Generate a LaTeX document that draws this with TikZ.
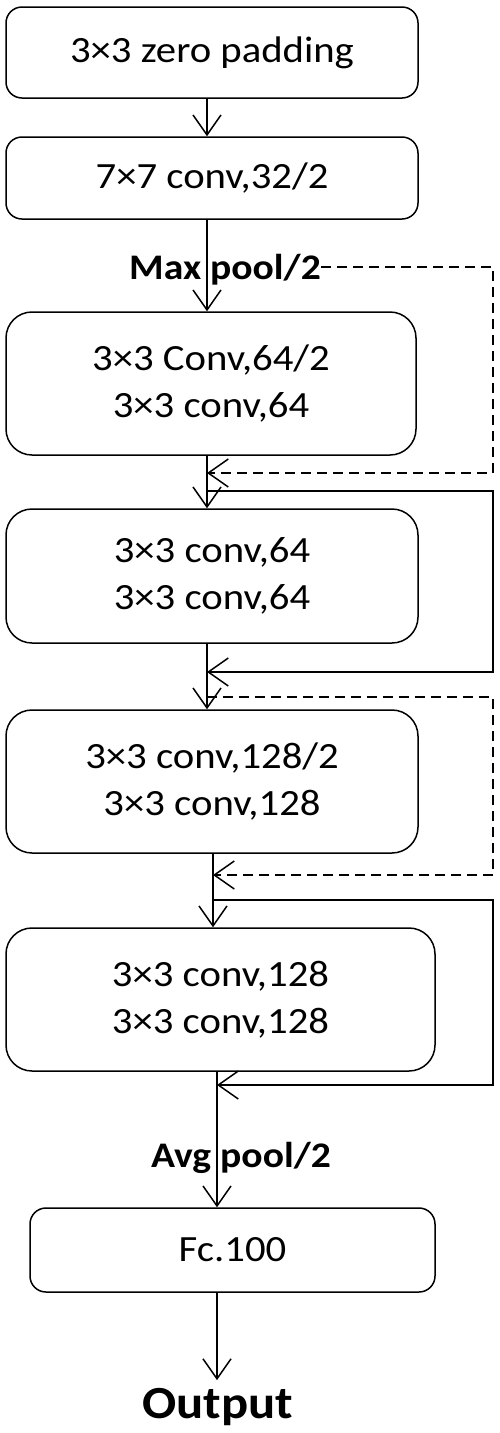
\documentclass[tikz,border=0pt]{standalone}
\usepackage{fontspec}
\setmainfont{Carlito}[FakeStretch=1.1]
\usetikzlibrary{arrows.meta}
\begin{document}
\begin{tikzpicture}[x=1pt, y=-1pt,
    block/.style={draw, line width=1.5pt, rounded corners=16pt, inner sep=0pt, align=center, font=\fontsize{37}{47}\selectfont},
    tag/.style={inner sep=0pt, font=\bfseries\fontsize{36}{44}\selectfont},
    arr/.style={line width=1.5pt, -{Straight Barb[length=20pt, width=28pt]}},
    skip/.style={arr, line cap=rect},
    skipd/.style={arr, dash pattern=on 10pt off 6pt}]
  \useasboundingbox (0,0) rectangle (500,1433);

  \node[block, minimum width=412pt, minimum height=91pt] (pad) at (212,52.5) {3×3 zero padding};
  \node[block, minimum width=412pt, minimum height=82pt] (conv1) at (212,178) {7×7 conv,32/2};
  \node[block, rounded corners=26pt, minimum width=410pt, minimum height=143pt] (res1) at (211,383.5) {3×3 Conv,64/2\\3×3 conv,64};
  \node[block, rounded corners=26pt, minimum width=412pt, minimum height=134pt] (res2) at (212,576) {3×3 conv,64\\3×3 conv,64};
  \node[block, rounded corners=26pt, minimum width=412pt, minimum height=143pt] (res3) at (212,781.5) {3×3 conv,128/2\\3×3 conv,128};
  \node[block, rounded corners=26pt, minimum width=429pt, minimum height=143pt] (res4) at (220.5,999.5) {3×3 conv,128\\3×3 conv,128};
  \node[block, minimum width=405pt, minimum height=84pt] (fc) at (232.5,1250) {Fc.100};
  \node[inner sep=0pt, font=\bfseries\fontsize{46}{54}\selectfont] (out) at (218,1407) {Output};

  % main path
  \coordinate (colA) at (207,0);
  \coordinate (colB) at (213,0);
  \coordinate (colC) at (217,0);
  \foreach \a/\b/\c in {pad/conv1/colA, conv1/res1/colA, res1/res2/colA, res2/res3/colA, res3/res4/colB, res4/fc/colC} {
    \draw[arr] (\a.south -| \c) -- (\b.north -| \c);
  }
  \draw[arr] (fc.south -| colC) -- ([yshift=8pt]out.north -| colC);

  \node[tag] (maxpool) at (225,270) {Max pool/2};
  \node[tag] (avgpool) at (241,1158) {Avg pool/2};

  % shortcuts
  \coordinate (rail) at (493,0);
  \coordinate (m1) at (207,473);
  \coordinate (s2) at (207,491);
  \coordinate (m2) at (207,672);
  \coordinate (s3) at (207,697);
  \coordinate (m3) at (213,875);
  \coordinate (s4) at (213,900);
  \coordinate (m4) at (217,1085);
  \draw[skipd] ([yshift=3pt]maxpool.east) -- ([yshift=3pt]maxpool.east -| rail) |- (m1);
  \draw[skip] (s2) -- (s2 -| rail) |- (m2);
  \draw[skipd] (s3) -- (s3 -| rail) |- (m3);
  \draw[skip] (s4) -- (s4 -| rail) |- (m4);
\end{tikzpicture}
\end{document}
